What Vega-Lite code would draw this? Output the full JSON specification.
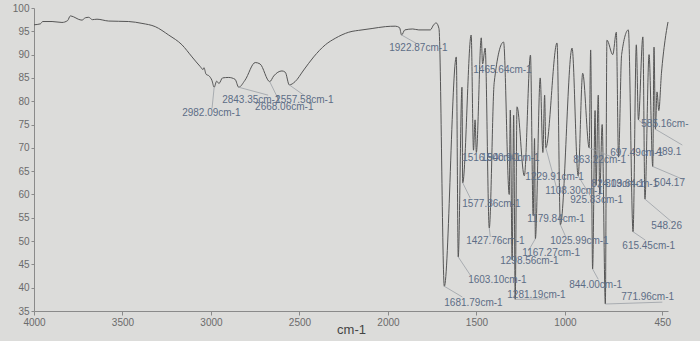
{
  "$schema": "https://vega.github.io/schema/vega-lite/v6.json",
  "width": 634,
  "height": 303,
  "autosize": {"type": "none"},
  "padding": {"left": 34, "top": 8, "right": 32, "bottom": 30},
  "background": "#dcdcda",
  "config": {"view": {"stroke": null}, "font": "Liberation Sans", "axis": {"labelOverlap": false, "labelBound": false}},
  "datasets": {
    "spectrum": [
      {"wn": 4000, "t": 96.4}, {"wn": 3964, "t": 96.6}, {"wn": 3951, "t": 97.1}, {"wn": 3898, "t": 97.1},
      {"wn": 3842, "t": 96.9}, {"wn": 3810, "t": 97.3}, {"wn": 3795, "t": 98.3}, {"wn": 3776, "t": 98.1},
      {"wn": 3750, "t": 97.6}, {"wn": 3729, "t": 97.4}, {"wn": 3710, "t": 97.9}, {"wn": 3691, "t": 98.0},
      {"wn": 3670, "t": 97.5}, {"wn": 3644, "t": 97.6}, {"wn": 3578, "t": 97.2}, {"wn": 3465, "t": 97.1},
      {"wn": 3390, "t": 96.7}, {"wn": 3315, "t": 96.0}, {"wn": 3239, "t": 94.2}, {"wn": 3164, "t": 92.1},
      {"wn": 3107, "t": 89.5}, {"wn": 3060, "t": 87.4}, {"wn": 3045, "t": 86.8}, {"wn": 3040, "t": 87.2},
      {"wn": 3028, "t": 85.8}, {"wn": 3010, "t": 85.4}, {"wn": 2995, "t": 84.5}, {"wn": 2982.09, "t": 83.0},
      {"wn": 2968, "t": 84.3}, {"wn": 2955, "t": 83.8}, {"wn": 2935, "t": 85.0}, {"wn": 2900, "t": 85.1},
      {"wn": 2864, "t": 84.7}, {"wn": 2843.35, "t": 83.0}, {"wn": 2808, "t": 84.5}, {"wn": 2750, "t": 88.3},
      {"wn": 2723, "t": 88.0}, {"wn": 2668.06, "t": 84.2}, {"wn": 2646, "t": 85.4}, {"wn": 2599, "t": 86.5},
      {"wn": 2580, "t": 86.2}, {"wn": 2557.58, "t": 83.5}, {"wn": 2525, "t": 84.2}, {"wn": 2476, "t": 86.7},
      {"wn": 2420, "t": 89.5}, {"wn": 2354, "t": 92.1}, {"wn": 2298, "t": 93.5}, {"wn": 2222, "t": 94.8},
      {"wn": 2147, "t": 95.3}, {"wn": 2090, "t": 95.6}, {"wn": 2015, "t": 96.0}, {"wn": 1959, "t": 96.1},
      {"wn": 1935, "t": 95.8}, {"wn": 1922.87, "t": 94.2}, {"wn": 1905, "t": 95.3}, {"wn": 1860, "t": 95.5},
      {"wn": 1826, "t": 95.3}, {"wn": 1761, "t": 95.3}, {"wn": 1742, "t": 96.4}, {"wn": 1728, "t": 96.8},
      {"wn": 1712, "t": 95.6}, {"wn": 1681.79, "t": 40.3}, {"wn": 1614, "t": 89.5}, {"wn": 1603.10, "t": 46.6},
      {"wn": 1582, "t": 83.0}, {"wn": 1577.86, "t": 62.5}, {"wn": 1530, "t": 94.2}, {"wn": 1516.94, "t": 69.5},
      {"wn": 1508, "t": 76.0}, {"wn": 1500.90, "t": 69.0}, {"wn": 1473, "t": 93.6}, {"wn": 1465.64, "t": 88.0},
      {"wn": 1451, "t": 91.4}, {"wn": 1427.76, "t": 52.8}, {"wn": 1400, "t": 84.0}, {"wn": 1347, "t": 92.7},
      {"wn": 1315, "t": 60.0}, {"wn": 1309, "t": 78.1}, {"wn": 1298.56, "t": 46.0}, {"wn": 1290, "t": 77.0},
      {"wn": 1281.19, "t": 37.5}, {"wn": 1271, "t": 78.8}, {"wn": 1229.91, "t": 64.0}, {"wn": 1195, "t": 89.9},
      {"wn": 1179.84, "t": 55.5}, {"wn": 1172, "t": 72.0}, {"wn": 1167.27, "t": 50.5}, {"wn": 1140, "t": 85.0},
      {"wn": 1125, "t": 69.0}, {"wn": 1115, "t": 81.3}, {"wn": 1108.30, "t": 70.0}, {"wn": 1045, "t": 92.5},
      {"wn": 1025.99, "t": 53.5}, {"wn": 960, "t": 91.4}, {"wn": 925.83, "t": 64.0}, {"wn": 900, "t": 86.0},
      {"wn": 863.22, "t": 70.0}, {"wn": 855, "t": 91.0}, {"wn": 844.00, "t": 44.0}, {"wn": 830, "t": 78.0},
      {"wn": 824.19, "t": 62.0}, {"wn": 812, "t": 81.3}, {"wn": 803.64, "t": 60.0}, {"wn": 790, "t": 75.0},
      {"wn": 771.96, "t": 36.5}, {"wn": 763, "t": 93.1}, {"wn": 730, "t": 90.0}, {"wn": 710, "t": 94.8},
      {"wn": 697.49, "t": 68.0}, {"wn": 680, "t": 90.0}, {"wn": 642, "t": 95.3}, {"wn": 615.45, "t": 52.0},
      {"wn": 597, "t": 92.1}, {"wn": 585.16, "t": 76.0}, {"wn": 560, "t": 93.8}, {"wn": 548.26, "t": 59.0},
      {"wn": 525, "t": 90.0}, {"wn": 504.17, "t": 66.0}, {"wn": 497, "t": 91.6}, {"wn": 489.1, "t": 74.0},
      {"wn": 480, "t": 82.0}, {"wn": 470, "t": 78.0}, {"wn": 455, "t": 86.0}, {"wn": 435, "t": 93.0},
      {"wn": 418, "t": 97.0}
    ],
    "labels": [
      {"text": "2982.09cm-1", "wn": 3163, "t": 77.5},
      {"text": "2843.35cm-1", "wn": 2937, "t": 80.3},
      {"text": "2557.58cm-1", "wn": 2638, "t": 80.3},
      {"text": "2668.06cm-1", "wn": 2751, "t": 78.8},
      {"text": "1922.87cm-1", "wn": 1993, "t": 91.4},
      {"text": "1465.64cm-1", "wn": 1518, "t": 86.7},
      {"text": "1516.94cm-1", "wn": 1581, "t": 67.8},
      {"text": "1500.90cm-1", "wn": 1473, "t": 67.8},
      {"text": "1577.86cm-1", "wn": 1581, "t": 57.9},
      {"text": "1427.76cm-1", "wn": 1558, "t": 50.0},
      {"text": "1603.10cm-1", "wn": 1547, "t": 41.6},
      {"text": "1681.79cm-1", "wn": 1682, "t": 36.7},
      {"text": "1298.56cm-1", "wn": 1366, "t": 45.7},
      {"text": "1281.19cm-1", "wn": 1326, "t": 38.4},
      {"text": "1229.91cm-1", "wn": 1224, "t": 63.7},
      {"text": "1179.84cm-1", "wn": 1213, "t": 54.7},
      {"text": "1167.27cm-1", "wn": 1241, "t": 47.4},
      {"text": "1108.30cm-1", "wn": 1111, "t": 60.7},
      {"text": "925.83cm-1", "wn": 970, "t": 58.8},
      {"text": "1025.99cm-1", "wn": 1083, "t": 50.0},
      {"text": "863.22cm-1", "wn": 953, "t": 67.4},
      {"text": "824.19cm-1", "wn": 851, "t": 62.2},
      {"text": "803.64cm-1", "wn": 772, "t": 62.2},
      {"text": "844.00cm-1", "wn": 976, "t": 40.6},
      {"text": "771.96cm-1", "wn": 682, "t": 38.0},
      {"text": "697.49cm-1", "wn": 744, "t": 68.9},
      {"text": "489.1", "wn": 484, "t": 69.1},
      {"text": "585.16cm-", "wn": 569, "t": 75.1},
      {"text": "615.45cm-1", "wn": 676, "t": 48.9},
      {"text": "548.26", "wn": 512, "t": 53.2},
      {"text": "504.17", "wn": 495, "t": 62.4}
    ],
    "leaders": [
      {"wn": 2982.09, "t": 83.0, "wn2": 2994, "t2": 78.5},
      {"wn": 2843.35, "t": 83.0, "wn2": 2677, "t2": 81.3},
      {"wn": 2668.06, "t": 84.2, "wn2": 2609, "t2": 79.6},
      {"wn": 2557.58, "t": 83.5, "wn2": 2468, "t2": 81.1},
      {"wn": 1922.87, "t": 94.2, "wn2": 1835, "t2": 92.3},
      {"wn": 1681.79, "t": 40.3, "wn2": 1580, "t2": 38.0},
      {"wn": 1603.10, "t": 46.6, "wn2": 1535, "t2": 42.7},
      {"wn": 1577.86, "t": 62.5, "wn2": 1535, "t2": 59.2},
      {"wn": 1427.76, "t": 52.8, "wn2": 1422, "t2": 50.9},
      {"wn": 1281.19, "t": 37.5, "wn2": 1094, "t2": 37.6},
      {"wn": 1167.27, "t": 50.5, "wn2": 1207, "t2": 47.9},
      {"wn": 1108.30, "t": 70.0, "wn2": 1049, "t2": 61.6},
      {"wn": 1025.99, "t": 53.5, "wn2": 998, "t2": 51.1},
      {"wn": 925.83, "t": 64.0, "wn2": 857, "t2": 59.7},
      {"wn": 863.22, "t": 70.0, "wn2": 732, "t2": 68.0},
      {"wn": 844.00, "t": 44.0, "wn2": 812, "t2": 41.8},
      {"wn": 771.96, "t": 36.5, "wn2": 450, "t2": 36.9},
      {"wn": 615.45, "t": 52.0, "wn2": 546, "t2": 50.2},
      {"wn": 548.26, "t": 59.0, "wn2": 393, "t2": 54.0},
      {"wn": 504.17, "t": 66.0, "wn2": 331, "t2": 63.2},
      {"wn": 489.1, "t": 74.0, "wn2": 337, "t2": 70.6},
      {"wn": 585.16, "t": 76.0, "wn2": 546, "t2": 74.7}
    ]
  },
  "layer": [
    {
      "data": {"name": "spectrum"},
      "mark": {"type": "line", "color": "#555555", "strokeWidth": 1, "interpolate": "monotone"},
      "encoding": {
        "x": {
          "field": "wn", "type": "quantitative",
          "scale": {"domain": [418, 4000], "reverse": true, "nice": false, "zero": false},
          "axis": {
            "values": [4000, 3500, 3000, 2500, 2000, 1500, 1000, 450], "format": "d", "labelOverlap": false, "tickCount": 20,
            "title": "cm-1", "grid": false, "tickSize": 4, "labelFontSize": 10, "labelPadding": 2,
            "labelColor": "#6b6b6b", "labelFlush": false, "titleFontSize": 13, "titleFontWeight": "normal",
            "titleColor": "#444444", "titlePadding": -4, "domainColor": "#8a8a8a", "tickColor": "#8a8a8a"
          }
        },
        "y": {
          "field": "t", "type": "quantitative",
          "scale": {"domain": [35, 100], "nice": false, "zero": false},
          "axis": {
            "values": [35, 40, 45, 50, 55, 60, 65, 70, 75, 80, 85, 90, 95, 100], "format": "d", "labelOverlap": false, "tickCount": 20,
            "title": null, "grid": false, "tickSize": 3, "labelFontSize": 10, "labelPadding": 2,
            "labelColor": "#6b6b6b", "labelFlush": false, "domainColor": "#8a8a8a", "tickColor": "#8a8a8a"
          }
        }
      }
    },
    {
      "data": {"name": "leaders"},
      "mark": {"type": "rule", "color": "#9aa0a6", "strokeWidth": 0.8},
      "encoding": {
        "x": {"field": "wn", "type": "quantitative"},
        "y": {"field": "t", "type": "quantitative"},
        "x2": {"field": "wn2"},
        "y2": {"field": "t2"}
      }
    },
    {
      "data": {"name": "labels"},
      "mark": {"type": "text", "align": "left", "baseline": "middle", "fontSize": 10, "color": "#5d6d86"},
      "encoding": {
        "x": {"field": "wn", "type": "quantitative"},
        "y": {"field": "t", "type": "quantitative"},
        "text": {"field": "text"}
      }
    }
  ]
}
